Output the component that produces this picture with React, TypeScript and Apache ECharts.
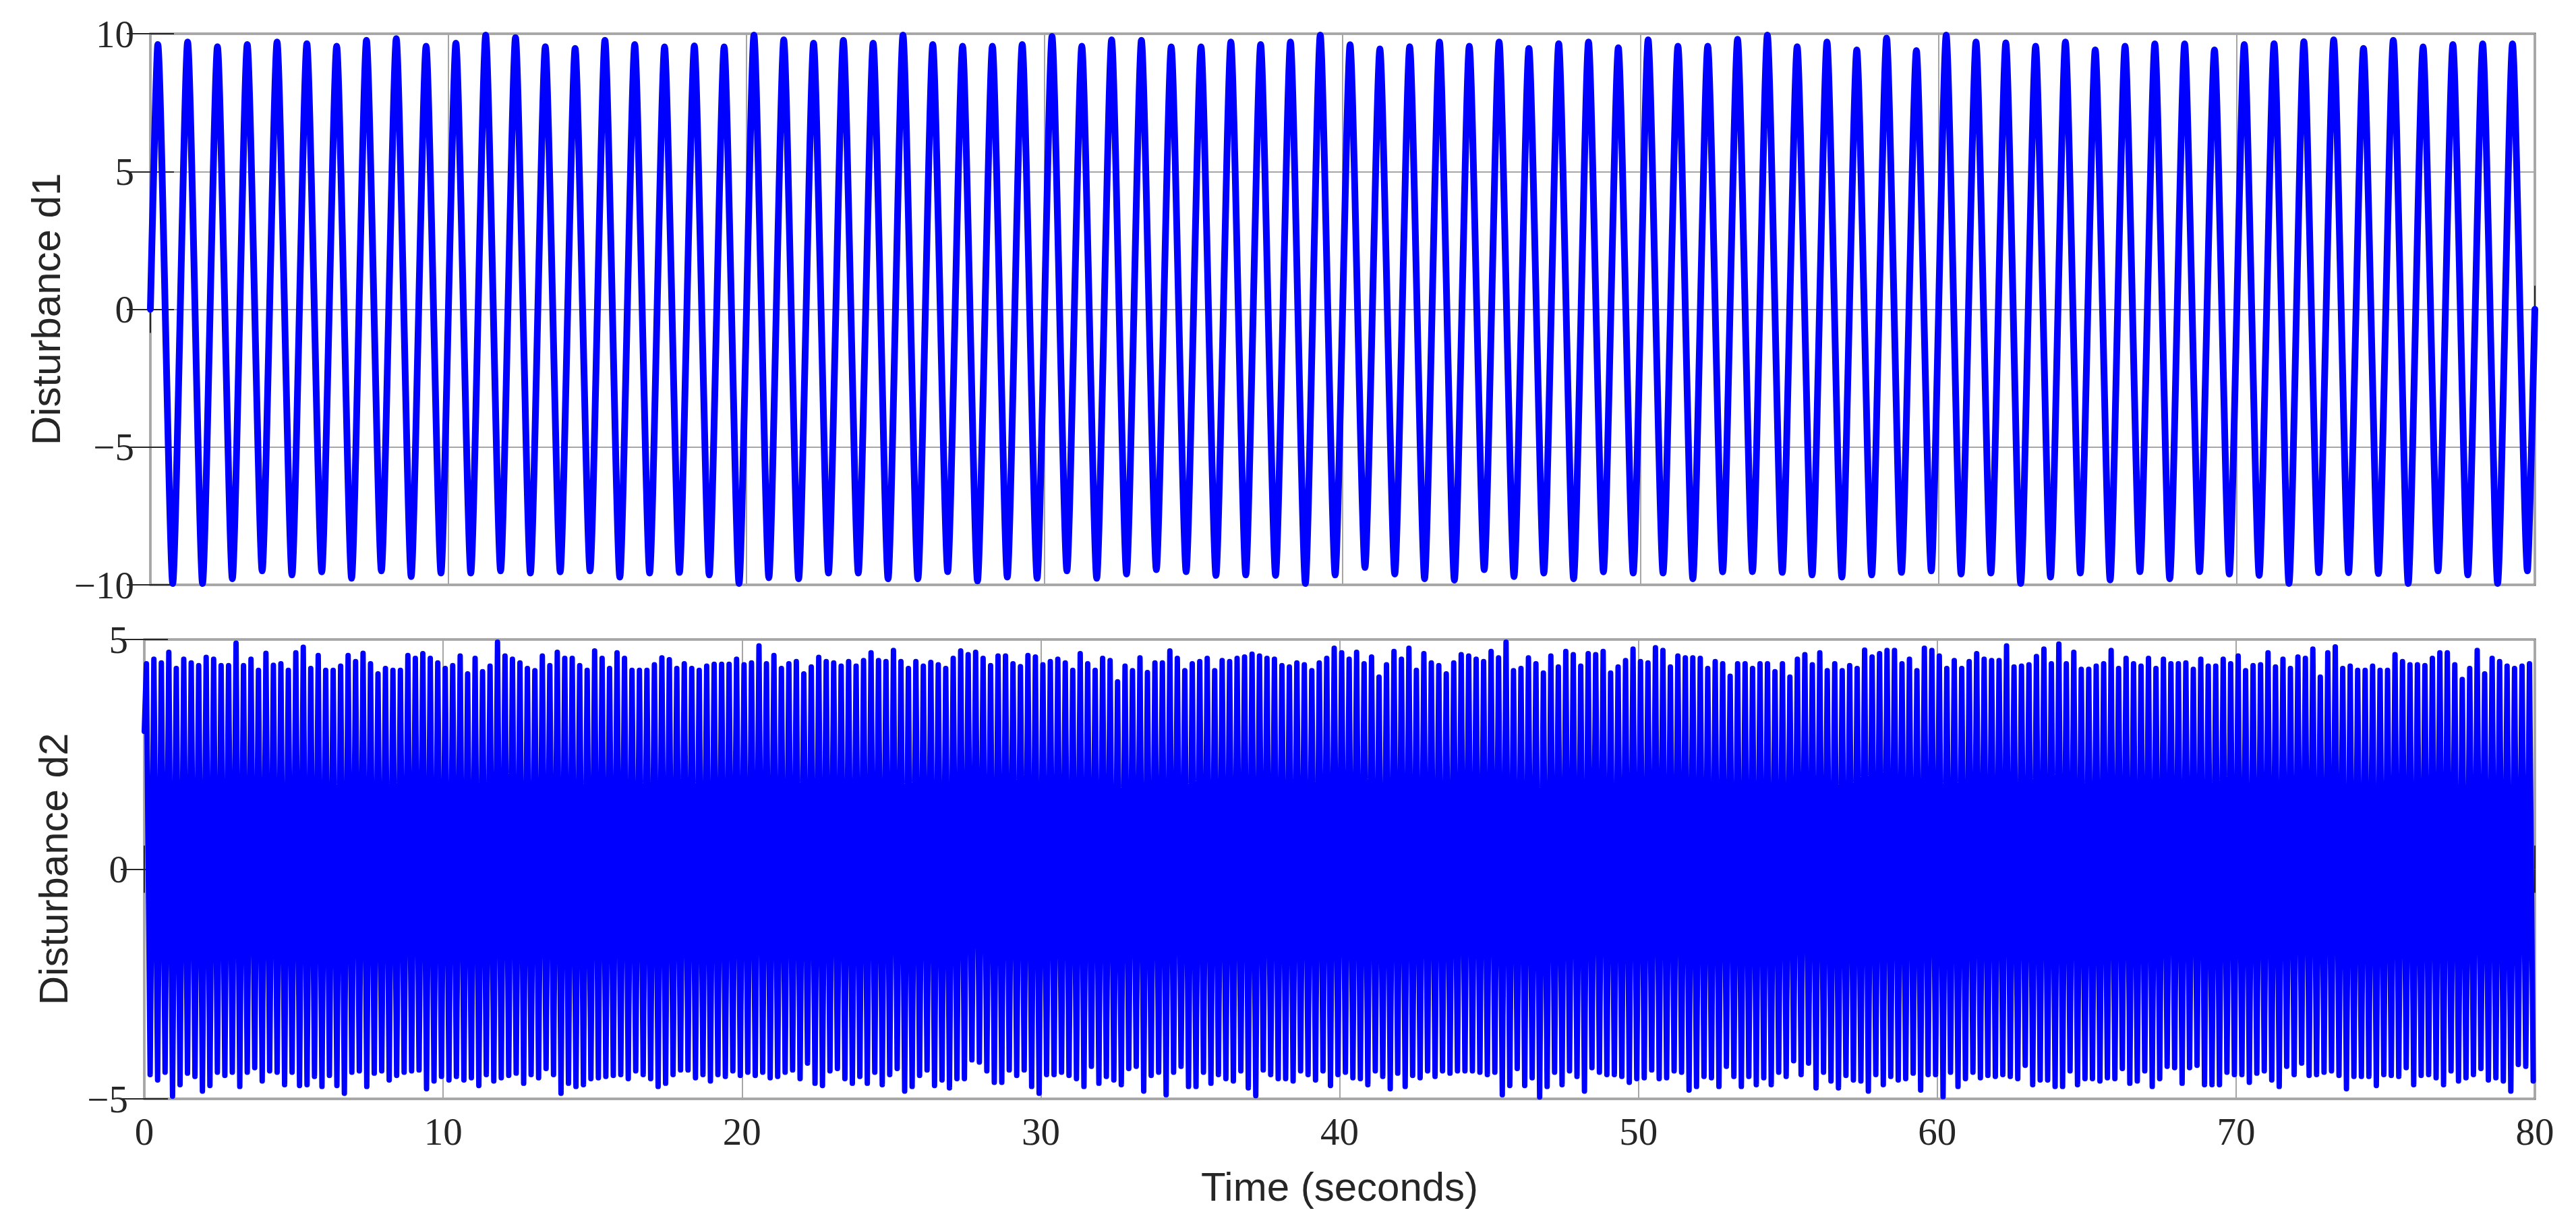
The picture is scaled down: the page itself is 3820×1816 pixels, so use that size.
import React, { useEffect, useRef } from "react";
import * as echarts from "echarts";

// ---- tick values ----
const timeTicks = [0, 10, 20, 30, 40, 50, 60, 70, 80];
const d1Ticks = [-10, -5, 0, 5, 10];
const d2Ticks = [-5, 0, 5];

// ---- Disturbance d1: one peak and one trough per second ----
const d1Period = 1.0;
const d1Peaks = [
  9.61, 9.70, 9.53, 9.61, 9.70, 9.64, 9.55, 9.76, 9.82, 9.55,
  9.66, 9.95, 9.86, 9.53, 9.47, 9.76, 9.61, 9.52, 9.56, 9.52,
  9.95, 9.78, 9.66, 9.76, 9.66, 9.95, 9.61, 9.55, 9.55, 9.61,
  9.90, 9.55, 9.78, 9.76, 9.52, 9.52, 9.70, 9.61, 9.70, 9.95,
  9.60, 9.45, 9.53, 9.70, 9.55, 9.70, 9.47, 9.64, 9.70, 9.49,
  9.78, 9.55, 9.55, 9.80, 9.95, 9.53, 9.70, 9.41, 9.84, 9.39,
  9.95, 9.70, 9.67, 9.55, 9.70, 9.41, 9.55, 9.63, 9.63, 9.41,
  9.61, 9.64, 9.71, 9.78, 9.47, 9.76, 9.52, 9.61, 9.63, 9.63,
];
const d1Troughs = [
  -9.95, -9.95, -9.78, -9.49, -9.64, -9.53, -9.76, -9.49, -9.70, -9.57,
  -9.57, -9.49, -9.57, -9.53, -9.49, -9.72, -9.57, -9.55, -9.64, -9.95,
  -9.74, -9.78, -9.57, -9.57, -9.78, -9.78, -9.52, -9.86, -9.72, -9.76,
  -9.49, -9.76, -9.61, -9.45, -9.52, -9.66, -9.64, -9.66, -9.95, -9.64,
  -9.37, -9.61, -9.78, -9.83, -9.45, -9.70, -9.57, -9.78, -9.53, -9.57,
  -9.57, -9.78, -9.53, -9.52, -9.55, -9.64, -9.72, -9.64, -9.55, -9.49,
  -9.61, -9.57, -9.95, -9.72, -9.57, -9.82, -9.52, -9.78, -9.52, -9.61,
  -9.66, -9.95, -9.56, -9.56, -9.59, -9.95, -9.49, -9.64, -9.95, -9.49,
];

// ---- Disturbance d2: one top and one bottom every 0.25 s ----
const d2Period = 0.25;
const d2Tops = [
  4.47, 4.57, 4.49, 4.72, 4.37, 4.57, 4.49, 4.43, 4.61, 4.57, 4.43, 4.43, 4.92, 4.43, 4.57, 4.33, 4.70, 4.44, 4.47, 4.33,
  4.71, 4.83, 4.37, 4.65, 4.33, 4.33, 4.42, 4.65, 4.52, 4.70, 4.47, 4.25, 4.37, 4.33, 4.33, 4.65, 4.59, 4.69, 4.59, 4.49,
  4.37, 4.43, 4.64, 4.25, 4.59, 4.30, 4.42, 4.94, 4.64, 4.57, 4.49, 4.37, 4.32, 4.64, 4.43, 4.72, 4.59, 4.59, 4.43, 4.33,
  4.75, 4.59, 4.37, 4.71, 4.59, 4.33, 4.33, 4.33, 4.45, 4.60, 4.56, 4.37, 4.47, 4.37, 4.33, 4.42, 4.46, 4.46, 4.46, 4.57,
  4.45, 4.49, 4.86, 4.47, 4.65, 4.37, 4.47, 4.52, 4.25, 4.40, 4.61, 4.52, 4.49, 4.42, 4.52, 4.42, 4.54, 4.71, 4.54, 4.52,
  4.76, 4.52, 4.37, 4.52, 4.42, 4.50, 4.45, 4.37, 4.59, 4.75, 4.67, 4.72, 4.59, 4.43, 4.64, 4.64, 4.47, 4.41, 4.65, 4.62,
  4.45, 4.52, 4.57, 4.49, 4.33, 4.69, 4.47, 4.33, 4.59, 4.54, 4.08, 4.42, 4.32, 4.60, 4.28, 4.49, 4.49, 4.75, 4.59, 4.32,
  4.47, 4.52, 4.59, 4.32, 4.54, 4.52, 4.59, 4.62, 4.68, 4.64, 4.59, 4.57, 4.43, 4.40, 4.49, 4.45, 4.32, 4.49, 4.59, 4.81,
  4.71, 4.57, 4.72, 4.47, 4.62, 4.18, 4.45, 4.74, 4.57, 4.81, 4.33, 4.69, 4.49, 4.43, 4.25, 4.49, 4.67, 4.64, 4.57, 4.52,
  4.74, 4.60, 4.94, 4.32, 4.37, 4.60, 4.47, 4.27, 4.64, 4.40, 4.74, 4.67, 4.42, 4.69, 4.67, 4.74, 4.27, 4.40, 4.54, 4.79,
  4.52, 4.49, 4.82, 4.76, 4.40, 4.64, 4.60, 4.60, 4.59, 4.37, 4.52, 4.47, 4.20, 4.47, 4.47, 4.37, 4.47, 4.47, 4.30, 4.47,
  4.18, 4.57, 4.67, 4.45, 4.71, 4.32, 4.47, 4.32, 4.43, 4.37, 4.77, 4.62, 4.69, 4.76, 4.76, 4.47, 4.57, 4.32, 4.81, 4.76,
  4.64, 4.37, 4.54, 4.37, 4.52, 4.69, 4.57, 4.54, 4.54, 4.86, 4.40, 4.42, 4.45, 4.63, 4.79, 4.47, 4.90, 4.47, 4.72, 4.35,
  4.35, 4.42, 4.47, 4.76, 4.37, 4.59, 4.47, 4.42, 4.59, 4.37, 4.57, 4.47, 4.47, 4.49, 4.35, 4.57, 4.42, 4.42, 4.57, 4.47,
  4.64, 4.32, 4.43, 4.45, 4.71, 4.40, 4.57, 4.37, 4.62, 4.59, 4.79, 4.18, 4.71, 4.84, 4.37, 4.42, 4.33, 4.33, 4.42, 4.33,
  4.33, 4.67, 4.52, 4.45, 4.45, 4.43, 4.59, 4.71, 4.71, 4.45, 4.13, 4.37, 4.76, 4.25, 4.59, 4.52, 4.42, 4.37, 4.42, 4.47,
];
const d2Bottoms = [
  -4.47, -4.59, -4.42, -4.94, -4.69, -4.44, -4.51, -4.83, -4.71, -4.42, -4.49, -4.42, -4.73, -4.42, -4.32, -4.61, -4.39, -4.42, -4.69, -4.42,
  -4.71, -4.69, -4.51, -4.73, -4.49, -4.71, -4.88, -4.42, -4.39, -4.73, -4.44, -4.39, -4.59, -4.49, -4.42, -4.39, -4.37, -4.78, -4.61, -4.51,
  -4.59, -4.51, -4.59, -4.54, -4.71, -4.47, -4.61, -4.54, -4.49, -4.44, -4.66, -4.47, -4.54, -4.34, -4.47, -4.88, -4.66, -4.73, -4.69, -4.56,
  -4.54, -4.51, -4.49, -4.47, -4.56, -4.39, -4.47, -4.56, -4.73, -4.66, -4.47, -4.37, -4.37, -4.54, -4.47, -4.61, -4.47, -4.51, -4.39, -4.49,
  -4.42, -4.49, -4.42, -4.54, -4.51, -4.42, -4.37, -4.56, -4.22, -4.66, -4.71, -4.39, -4.34, -4.56, -4.66, -4.51, -4.66, -4.42, -4.69, -4.47,
  -4.34, -4.83, -4.73, -4.49, -4.37, -4.71, -4.59, -4.76, -4.56, -4.56, -4.15, -4.20, -4.39, -4.64, -4.64, -4.37, -4.49, -4.37, -4.73, -4.88,
  -4.47, -4.47, -4.42, -4.49, -4.56, -4.73, -4.29, -4.66, -4.51, -4.59, -4.69, -4.34, -4.29, -4.83, -4.49, -4.42, -4.91, -4.42, -4.29, -4.73,
  -4.73, -4.42, -4.66, -4.47, -4.56, -4.61, -4.39, -4.76, -4.93, -4.37, -4.47, -4.56, -4.56, -4.61, -4.39, -4.47, -4.59, -4.39, -4.71, -4.47,
  -4.42, -4.54, -4.56, -4.69, -4.39, -4.51, -4.78, -4.44, -4.73, -4.49, -4.54, -4.39, -4.51, -4.39, -4.44, -4.39, -4.39, -4.39, -4.42, -4.47,
  -4.42, -4.91, -4.71, -4.34, -4.71, -4.54, -4.96, -4.73, -4.42, -4.69, -4.39, -4.51, -4.83, -4.32, -4.42, -4.47, -4.47, -4.51, -4.64, -4.56,
  -4.54, -4.37, -4.56, -4.54, -4.39, -4.42, -4.81, -4.73, -4.51, -4.54, -4.73, -4.29, -4.51, -4.73, -4.51, -4.69, -4.54, -4.69, -4.42, -4.51,
  -4.17, -4.47, -4.22, -4.76, -4.42, -4.61, -4.76, -4.49, -4.59, -4.61, -4.83, -4.47, -4.69, -4.51, -4.59, -4.56, -4.44, -4.81, -4.47, -4.47,
  -4.95, -4.42, -4.73, -4.56, -4.42, -4.54, -4.49, -4.51, -4.47, -4.51, -4.56, -4.27, -4.69, -4.59, -4.59, -4.73, -4.73, -4.39, -4.69, -4.56,
  -4.56, -4.61, -4.54, -4.56, -4.34, -4.66, -4.61, -4.39, -4.73, -4.56, -4.29, -4.32, -4.66, -4.32, -4.27, -4.69, -4.69, -4.69, -4.42, -4.47,
  -4.47, -4.64, -4.44, -4.39, -4.59, -4.73, -4.29, -4.47, -4.22, -4.49, -4.47, -4.42, -4.39, -4.49, -4.78, -4.51, -4.51, -4.51, -4.71, -4.47,
  -4.49, -4.51, -4.32, -4.69, -4.49, -4.47, -4.54, -4.69, -4.39, -4.61, -4.54, -4.47, -4.34, -4.59, -4.54, -4.61, -4.83, -4.25, -4.29, -4.61,
];

// ---- build the time series from the read extrema ----
function buildD1(): number[][] {
  const pts: number[][] = [[0, 0]];
  for (let k = 0; k < d1Peaks.length; k++) {
    pts.push([k * d1Period + 0.25 * d1Period, d1Peaks[k]]);
    pts.push([k * d1Period + 0.75 * d1Period, d1Troughs[k]]);
  }
  pts.push([d1Peaks.length * d1Period, 0]);
  return pts;
}
function buildD2(): number[][] {
  const pts: number[][] = [[0, 3]];
  for (let k = 0; k < d2Tops.length; k++) {
    pts.push([k * d2Period + 0.07, d2Tops[k]]);
    pts.push([k * d2Period + 0.195, d2Bottoms[k]]);
  }
  return pts;
}

const AXIS = "#262626";
const GRID = "#a6a6a6";
const BLUE = "#0000ff";
const fmt = (v: number) => (v < 0 ? "\u2212" + Math.abs(v) : String(v));

function xAxes(gridIndex: number, withLabels: boolean) {
  const common = {
    gridIndex,
    type: "value",
    min: timeTicks[0],
    max: timeTicks[timeTicks.length - 1],
    interval: timeTicks[1] - timeTicks[0],
    axisLine: { show: false },
  };
  return [
    {
      ...common,
      position: "bottom",
      axisTick: { show: true, inside: true, length: 35, lineStyle: { color: AXIS, width: 2 } },
      axisLabel: {
        show: withLabels,
        margin: 20,
        fontFamily: "Liberation Serif",
        fontSize: 57,
        color: AXIS,
        formatter: fmt,
      },
      splitLine: { show: true, lineStyle: { color: GRID, width: 2 } },
      name: withLabels ? "Time (seconds)" : "",
      nameLocation: "middle",
      nameGap: 100,
      nameTextStyle: { fontFamily: "Liberation Sans", fontSize: 60, color: AXIS },
    },
    {
      ...common,
      position: "top",
      axisTick: { show: true, inside: true, length: 35, lineStyle: { color: AXIS, width: 2 } },
      axisLabel: { show: false },
      splitLine: { show: false },
    },
  ];
}

function yAxes(gridIndex: number, ticks: number[], name: string, nameGap: number) {
  const common = {
    gridIndex,
    type: "value",
    min: ticks[0],
    max: ticks[ticks.length - 1],
    interval: ticks[1] - ticks[0],
    axisLine: { show: false },
  };
  return [
    {
      ...common,
      position: "left",
      axisTick: { show: true, inside: true, length: 35, lineStyle: { color: AXIS, width: 2 } },
      axisLabel: {
        show: true,
        margin: 24,
        fontFamily: "Liberation Serif",
        fontSize: 57,
        color: AXIS,
        formatter: fmt,
      },
      splitLine: { show: true, lineStyle: { color: GRID, width: 2 } },
      name,
      nameLocation: "middle",
      nameGap,
      nameTextStyle: { fontFamily: "Liberation Sans", fontSize: 60, color: AXIS },
    },
    {
      ...common,
      position: "right",
      axisTick: { show: true, inside: true, length: 35, lineStyle: { color: AXIS, width: 2 } },
      axisLabel: { show: false },
      splitLine: { show: false },
    },
  ];
}

export default function App() {
  const ref = useRef<HTMLDivElement>(null);
  useEffect(() => {
    if (!ref.current) return;
    const chart = echarts.init(ref.current, undefined, { renderer: "svg" });
    const gridStyle = {
      show: true,
      borderColor: "#5a5a5a",
      borderWidth: 3,
      backgroundColor: "#ffffff",
      containLabel: false,
    };
    chart.setOption({
      animation: false,
      backgroundColor: "#ffffff",
      grid: [
        { ...gridStyle, left: 223, top: 50, width: 3536, height: 817 },
        { ...gridStyle, left: 214, top: 948, width: 3545, height: 681 },
      ],
      xAxis: [...xAxes(0, false), ...xAxes(1, true)],
      yAxis: [...yAxes(0, d1Ticks, "Disturbance d1", 118), ...yAxes(1, d2Ticks, "Disturbance d2", 105)],
      series: [
        {
          type: "line",
          xAxisIndex: 0,
          yAxisIndex: 0,
          data: buildD1(),
          showSymbol: false,
          symbol: "none",
          silent: true,
          clip: true,
          smooth: 0.2,
          lineStyle: { color: BLUE, width: 10, join: "round", cap: "round" },
        },
        {
          type: "line",
          xAxisIndex: 2,
          yAxisIndex: 2,
          data: buildD2(),
          showSymbol: false,
          symbol: "none",
          silent: true,
          clip: true,
          lineStyle: { color: BLUE, width: 8, join: "round", cap: "round" },
        },
      ],
    });
    return () => chart.dispose();
  }, []);
  return (
    <div
      ref={ref}
      style={{ position: "absolute", left: 0, top: 0, width: 3820, height: 1816, background: "#fff" }}
    />
  );
}
